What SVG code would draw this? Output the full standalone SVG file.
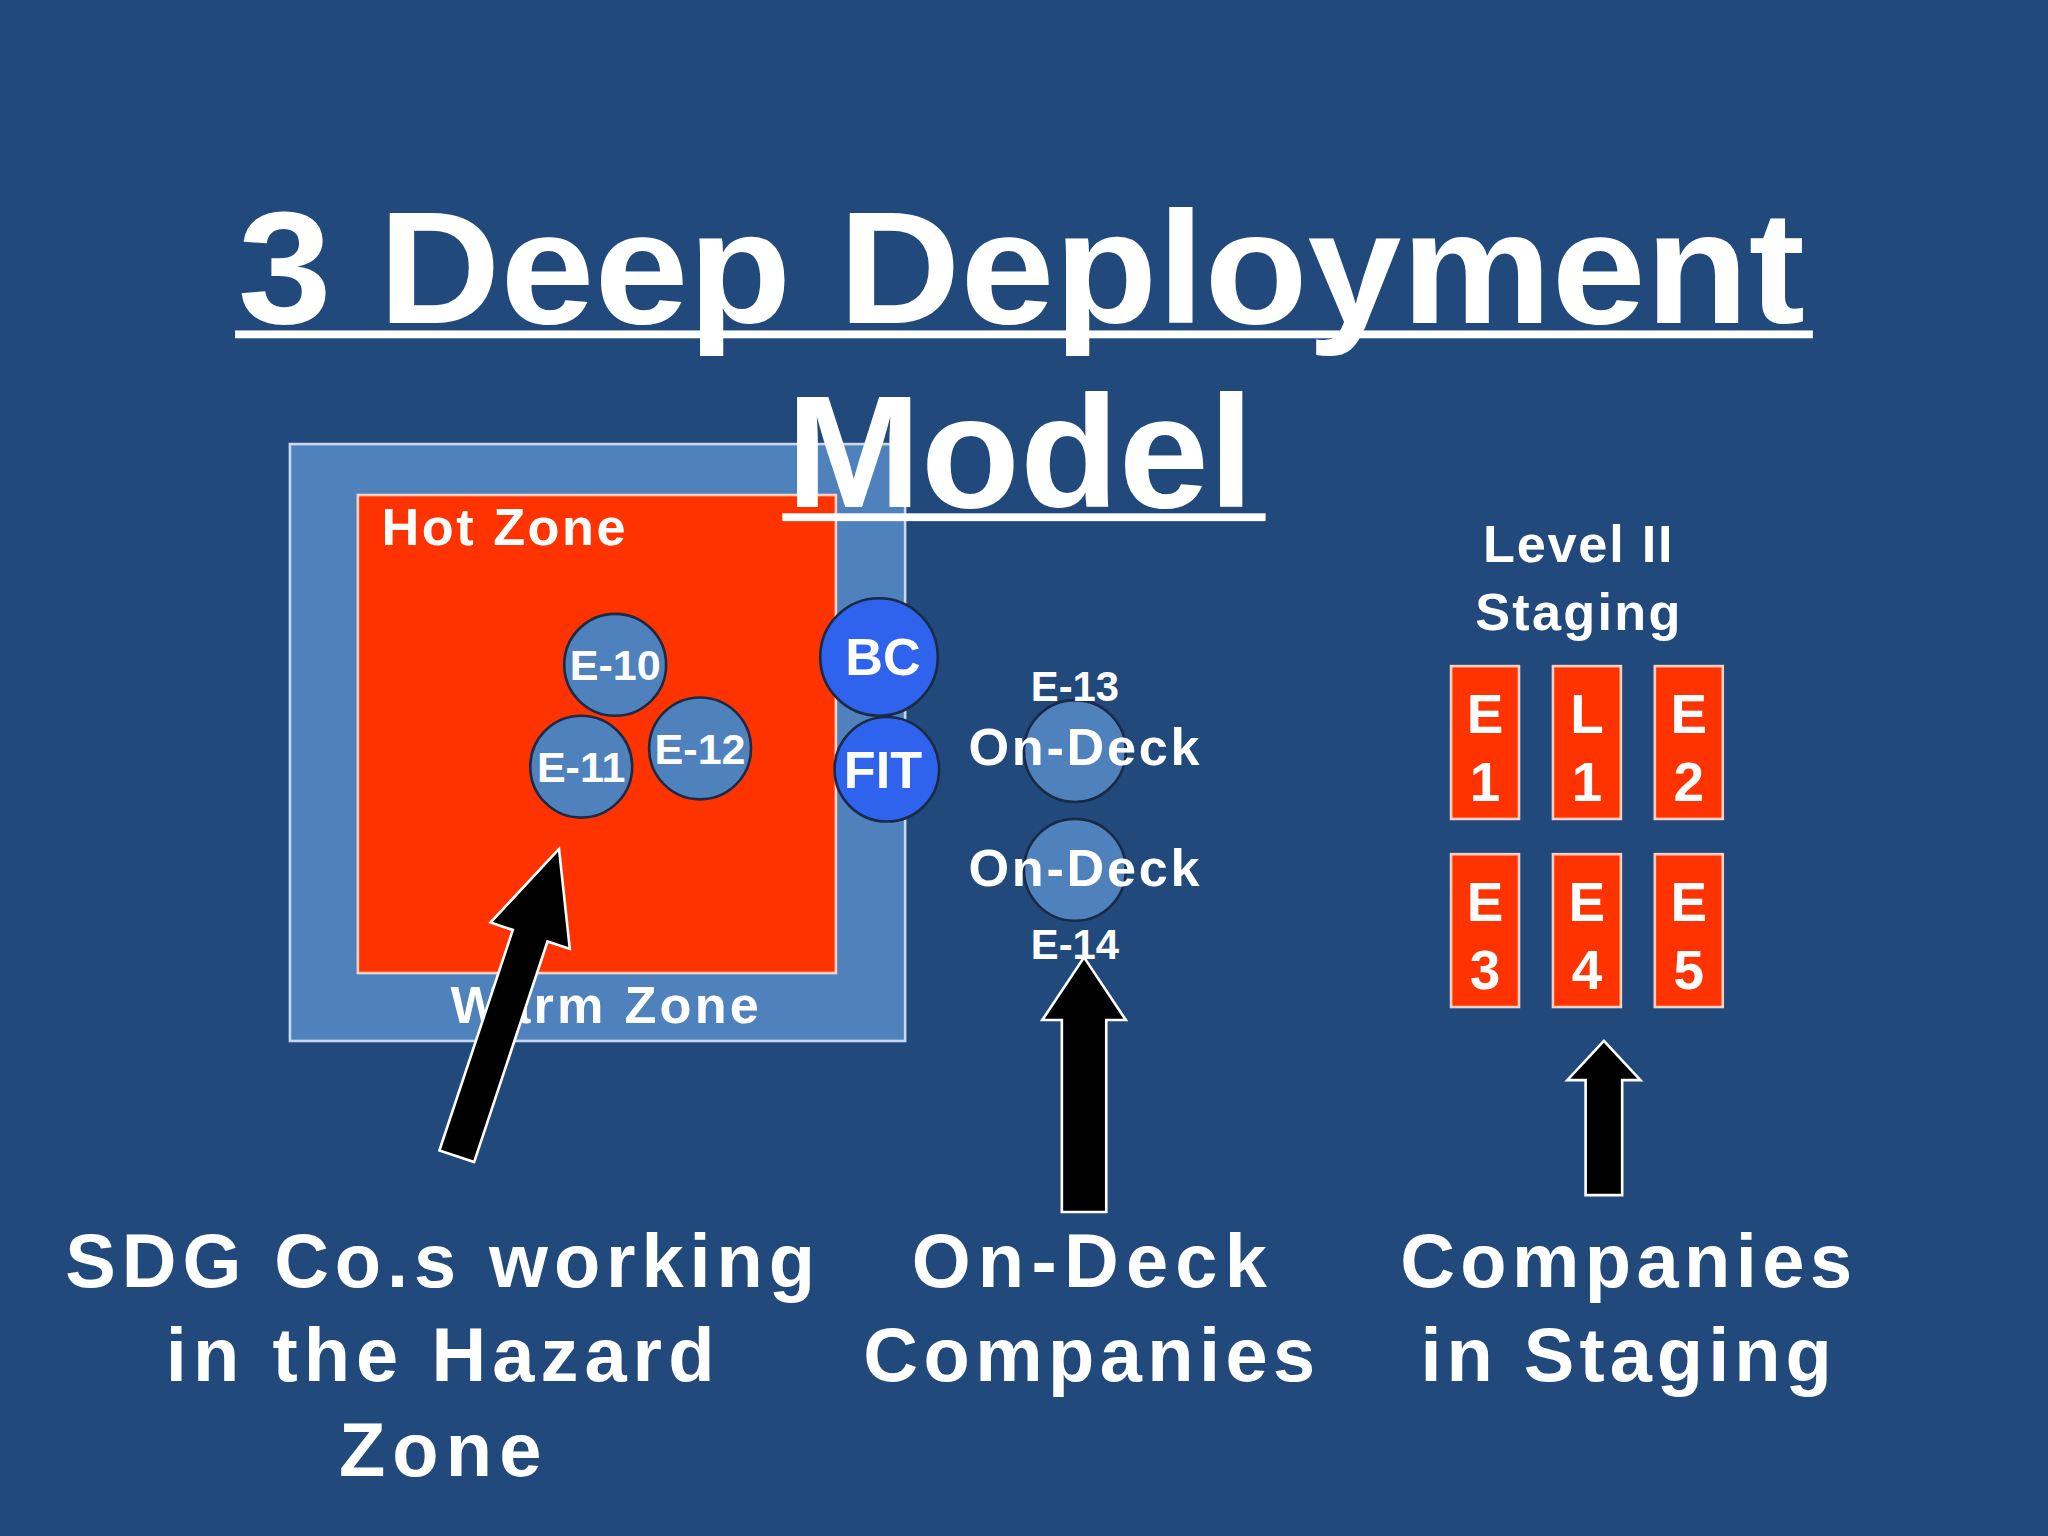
<svg xmlns="http://www.w3.org/2000/svg" width="2048" height="1536" viewBox="0 0 2048 1536">
<style>
text{font-family:"Liberation Sans",Arial,sans-serif;fill:#fff}
.b{font-weight:bold}
.c{fill:#4f81bd;stroke:#1a2a44;stroke-width:2}
.r{fill:#ff3300;stroke:#ffd0c0;stroke-width:2}
.arr{fill:#000;stroke:#fff;stroke-width:2}
.lbl{font-size:58px;font-weight:bold;text-anchor:middle}
</style>
<rect width="2048" height="1536" fill="#21497c"/>
<g transform="scale(1.3061)">
<g id="warm"><rect x="222" y="340" width="471" height="457" fill="#4f81bd" stroke="#c8d8ee" stroke-width="2"/></g>
<g id="hot"><rect x="274" y="379" width="366" height="366" class="r"/>
<text x="292" y="417" class="b" font-size="40" textLength="187">Hot Zone</text></g>
<g id="title">
<text x="182" y="247" class="b" font-size="122" textLength="1200" lengthAdjust="spacingAndGlyphs">3 Deep Deployment</text>
<rect x="180" y="253" width="1208" height="6" fill="#fff"/>
<text x="602" y="388" class="b" font-size="122" textLength="358" lengthAdjust="spacingAndGlyphs">Model</text>
<rect x="599" y="393" width="370" height="6" fill="#fff"/>
</g>
<text x="345" y="783" class="b" font-size="40" textLength="236">Warm Zone</text>
<g font-size="33" class="b" text-anchor="middle">
<g id="e10"><circle cx="471" cy="509" r="39" class="c"/><text x="471" y="521">E-10</text></g>
<g id="e11"><circle cx="445" cy="587" r="39" class="c"/><text x="445" y="599">E-11</text></g>
<g id="e12"><circle cx="536" cy="573" r="39" class="c"/><text x="536" y="585">E-12</text></g>
</g>
<g id="bc"><circle cx="673" cy="503" r="45" fill="#2f63ee" stroke="#1a2a44" stroke-width="2"/><text x="676" y="517" class="b" font-size="40" text-anchor="middle">BC</text></g>
<g id="fit"><circle cx="679" cy="589" r="40" fill="#2f63ee" stroke="#1a2a44" stroke-width="2"/><text x="676" y="603" class="b" font-size="40" text-anchor="middle">FIT</text></g>
<g id="e13"><circle cx="823" cy="575" r="39" class="c"/><text x="823" y="537" class="b" font-size="32" text-anchor="middle">E-13</text><text x="830" y="586" class="b" font-size="40" text-anchor="middle" textLength="177">On-Deck</text></g>
<g id="e14"><circle cx="823" cy="666" r="39" class="c"/><text x="830" y="678" class="b" font-size="40" text-anchor="middle" textLength="177">On-Deck</text><text x="823" y="734" class="b" font-size="32" text-anchor="middle">E-14</text></g>
<g id="staging"><text x="1208" y="430" class="b" font-size="40" text-anchor="middle" textLength="145">Level II</text><text x="1208" y="482" class="b" font-size="40" text-anchor="middle" textLength="157">Staging</text></g>
<g font-size="42" class="b" text-anchor="middle">
<g id="E1"><rect x="1111" y="510" width="52" height="117" class="r"/><text x="1137" y="561">E</text><text x="1137" y="613">1</text></g>
<g id="L1"><rect x="1189" y="510" width="52" height="117" class="r"/><text x="1215" y="561">L</text><text x="1215" y="613">1</text></g>
<g id="E2"><rect x="1267" y="510" width="52" height="117" class="r"/><text x="1293" y="561">E</text><text x="1293" y="613">2</text></g>
<g id="E3"><rect x="1111" y="654" width="52" height="117" class="r"/><text x="1137" y="705">E</text><text x="1137" y="757">3</text></g>
<g id="E4"><rect x="1189" y="654" width="52" height="117" class="r"/><text x="1215" y="705">E</text><text x="1215" y="757">4</text></g>
<g id="E5"><rect x="1267" y="654" width="52" height="117" class="r"/><text x="1293" y="705">E</text><text x="1293" y="757">5</text></g>
</g>
<g id="connectors">
<polygon class="arr" transform="translate(428,650) rotate(18.4)" points="0,0 32,70 14,70 14,248 -14,248 -14,70 -32,70"/>
<polygon class="arr" transform="translate(830,733)" points="0,0 32,48 17,48 17,195 -17,195 -17,48 -32,48"/>
<polygon class="arr" transform="translate(1228,797)" points="0,0 28,30 14,30 14,118 -14,118 -14,30 -28,30"/>
</g>
<g id="labels">
<text x="337" y="985" class="lbl" textLength="574">SDG Co.s working</text>
<text x="337" y="1057" class="lbl" textLength="420">in the Hazard</text>
<text x="337" y="1130" class="lbl" textLength="155">Zone</text>
<text x="834" y="985" class="lbl" textLength="272">On-Deck</text>
<text x="834" y="1057" class="lbl" textLength="346">Companies</text>
<text x="1245" y="985" class="lbl" textLength="346">Companies</text>
<text x="1245" y="1057" class="lbl" textLength="315">in Staging</text>
</g>
</g>
</svg>
